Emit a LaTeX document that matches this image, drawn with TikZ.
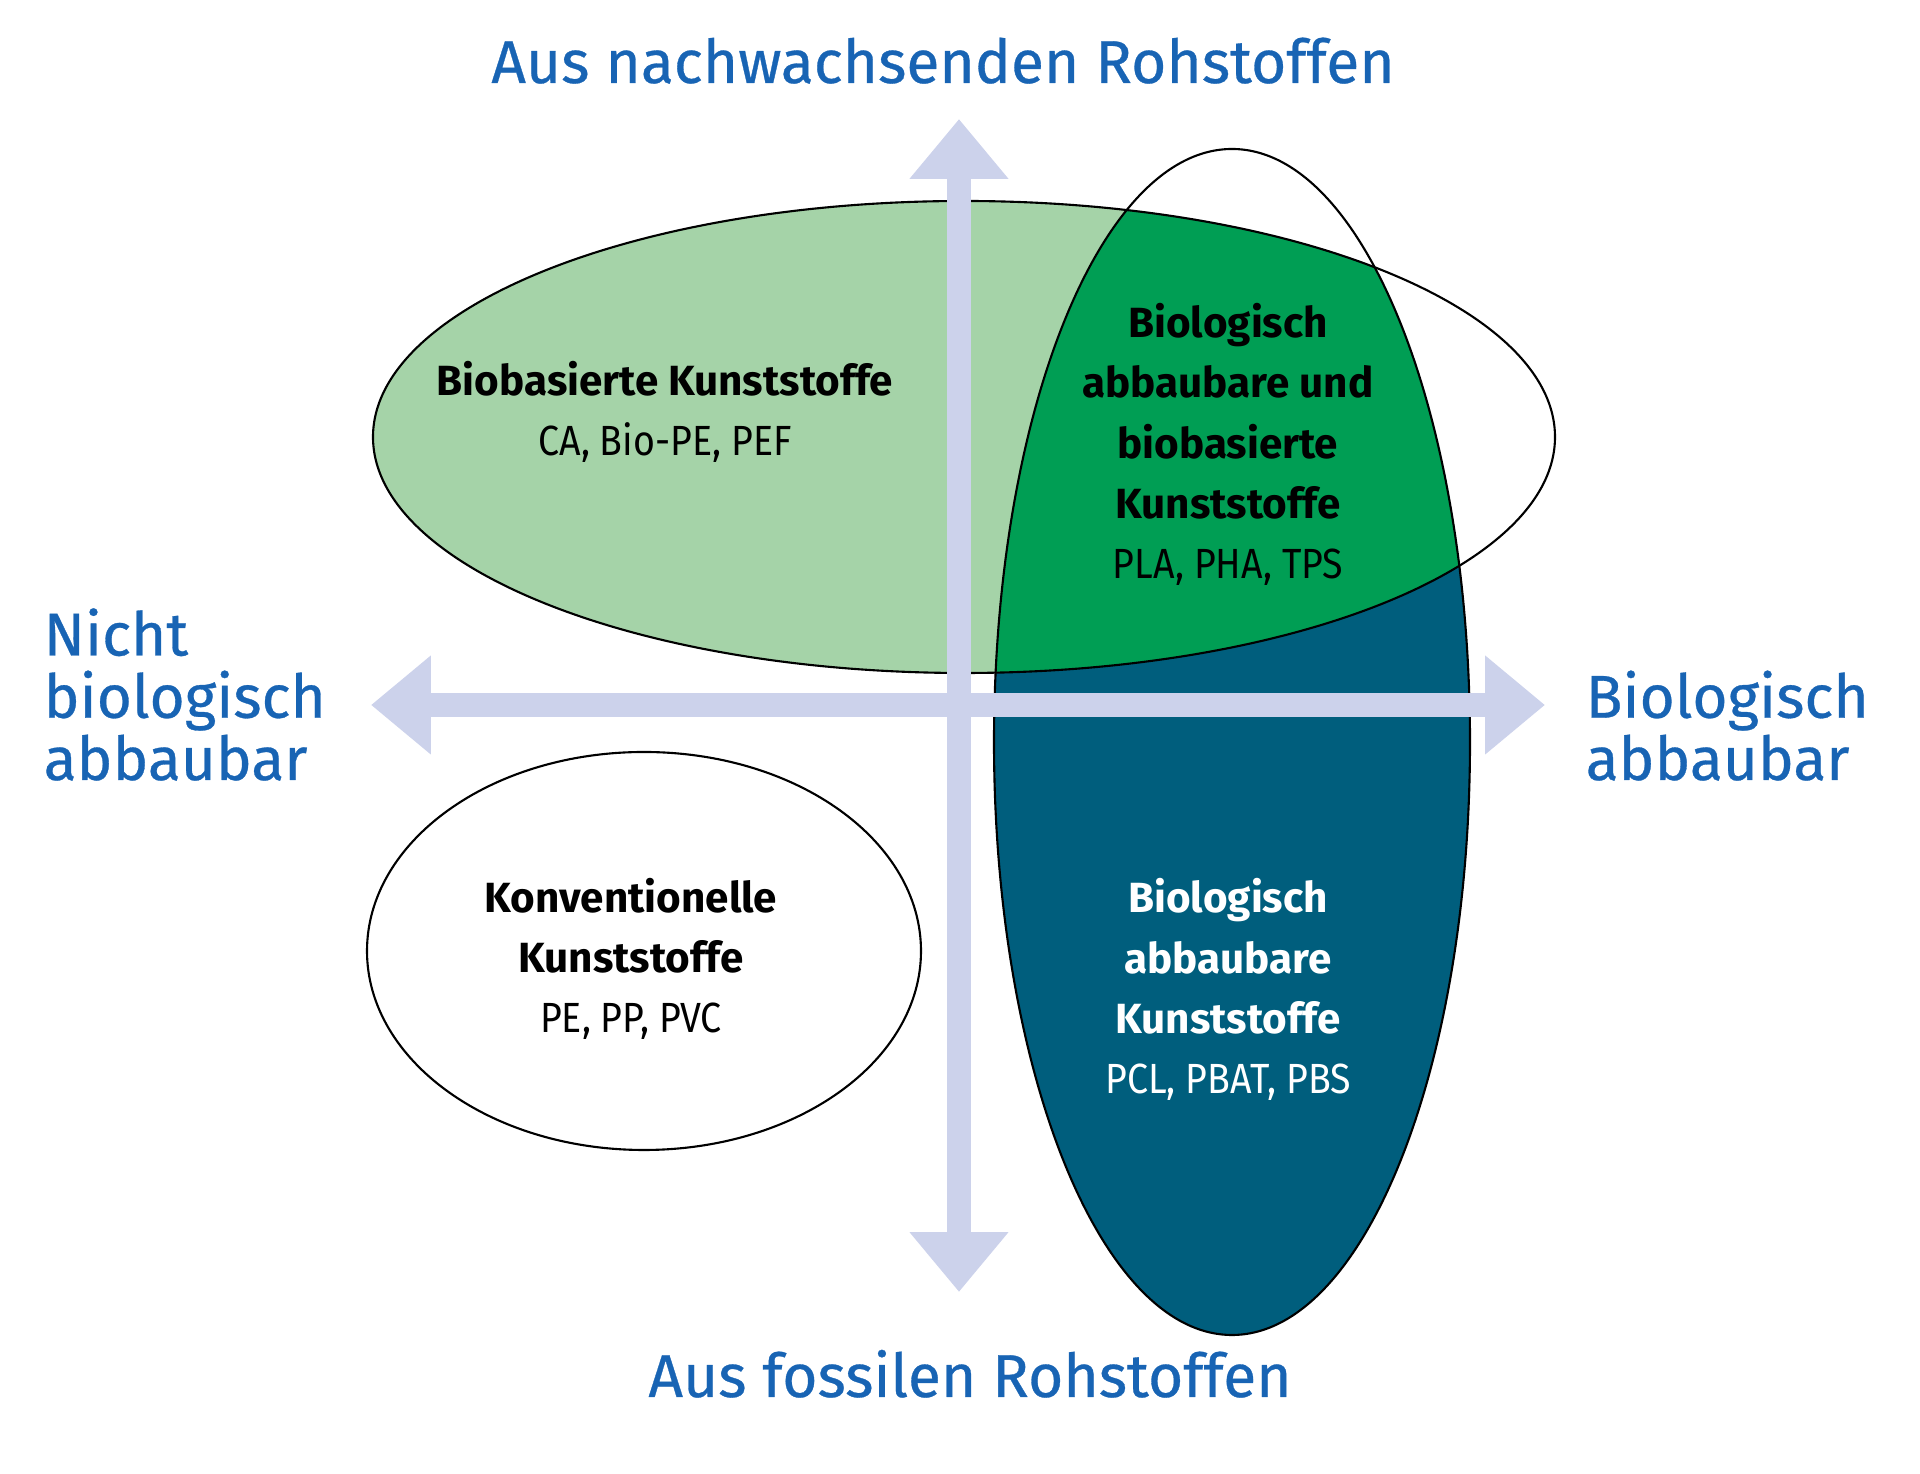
\documentclass[tikz,border=0pt]{standalone}
\usepackage{fontspec}
\setmainfont{Fira Sans}
\newfontfamily\labelfont[FakeBold=0.5]{Fira Sans}
\newfontfamily\listfont[FakeStretch=0.89]{Fira Sans}
\usetikzlibrary{arrows.meta,positioning}
\definecolor{biolight}{HTML}{A5D3A8}
\definecolor{biogreen}{HTML}{009E54}
\definecolor{bioteal}{HTML}{005E7D}
\definecolor{axisgrey}{HTML}{CCD2EB}
\definecolor{labelblue}{HTML}{1864B4}

\begin{document}
\begin{tikzpicture}[
    x=0.01cm, y=-0.01cm,
    axis/.style      = {draw=axisgrey, line width=7pt,
                        {Triangle[length=17pt,width=27pt]}-{Triangle[length=17pt,width=27pt]}},
    outline/.style   = {draw=black, line width=0.6pt},
    axislabel/.style = {font=\labelfont\fontsize{17.2}{17.7}\selectfont, text=labelblue, inner sep=0pt},
    kind/.style      = {font=\fontsize{12}{17.2}\selectfont, align=center, inner sep=0pt},
  ]
    \useasboundingbox (0,0) rectangle (1920,1474);

    % fills
    \begin{scope}
      \clip (0,0) rectangle (1232,1474);
      \fill[biolight] (964,437) ellipse [x radius=591, y radius=236];
    \end{scope}
    \begin{scope}
      \clip (0,437) rectangle (1920,1474);
      \fill[bioteal] (1232,742) ellipse [x radius=238, y radius=593];
    \end{scope}
    \begin{scope}
      \clip (964,437) ellipse [x radius=591, y radius=236];
      \fill[biogreen] (1232,742) ellipse [x radius=238, y radius=593];
    \end{scope}

    % outlines
    \draw[outline] (964,437) ellipse [x radius=591, y radius=236];
    \draw[outline] (1232,742) ellipse [x radius=238, y radius=593];
    \draw[outline] (644,951) ellipse [x radius=277, y radius=199];

    % axes
    \coordinate (north) at (959,119);
    \coordinate (south) at (959,1292);
    \coordinate (west)  at (371,705);
    \coordinate (east)  at (1545,705);
    \draw[axis] (west)  -- (east);
    \draw[axis] (south) -- (north);

    % base anchor = last line
    \node[axislabel, anchor=base] (renew)  at (943,83)   {Aus nachwachsenden Rohstoffen};
    \node[axislabel, anchor=base] (fossil) at (970,1397) {Aus fossilen Rohstoffen};
    \node[axislabel, align=left, anchor=base west] (nonbio) at (43,780) {Nicht\\biologisch\\abbaubar};
    \node[axislabel, align=left, anchor=base west] (bio)    at (1585,780) {Biologisch\\abbaubar};

    \node[kind, anchor=base] (biobased) at (665,456)
      {\textbf{Biobasierte Kunststoffe}\\\listfont CA, Bio-PE, PEF};
    \node[kind, anchor=base] (both) at (1228,579)
      {\textbf{Biologisch}\\\textbf{abbaubare und}\\\textbf{biobasierte}\\\textbf{Kunststoffe}\\\listfont PLA, PHA, TPS};
    \node[kind, anchor=base, text=white] (degradable) at (1228,1094)
      {\textbf{Biologisch}\\\textbf{abbaubare}\\\textbf{Kunststoffe}\\\listfont PCL, PBAT, PBS};
    \node[kind, anchor=base] (conv) at (631,1033)
      {\textbf{Konventionelle}\\\textbf{Kunststoffe}\\\listfont PE, PP, PVC};
\end{tikzpicture}
\end{document}
